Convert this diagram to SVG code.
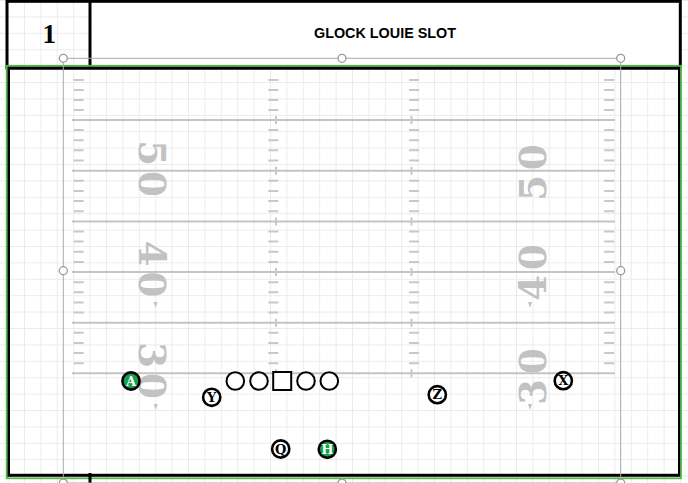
<svg xmlns="http://www.w3.org/2000/svg" width="688" height="483" viewBox="0 0 688 483">
<defs>
<pattern id="grid" patternUnits="userSpaceOnUse" x="7.6" y="0" width="16.4" height="16.4">
<path d="M0.5 0V16.4M0 0.5H16.4" fill="none" stroke="#ebebeb" stroke-width="1"/>
</pattern>
<style>
.yl{stroke:#c4c4c4;stroke-width:2;fill:none}
.hs{stroke:#c8c8c8;stroke-width:2;fill:none}
.num{font-family:"DejaVu Serif","Liberation Serif",serif;font-weight:bold;font-size:37px;fill:#c2c2c2;letter-spacing:5px}
.arr{fill:#c2c2c2}
.hdl{stroke:#a8a8a8;stroke-width:1;fill:none}
.hc{stroke:#999;stroke-width:1.3;fill:#fff}
.ol{fill:#fff;stroke:#000;stroke-width:2}
.sk{fill:#fff;stroke:#000;stroke-width:2.6}
.gr{fill:#12a04c;stroke:#000;stroke-width:2.6}
.lt{font-family:"DejaVu Serif","Liberation Serif",serif;font-weight:bold;font-size:13px;text-anchor:middle;fill:#000}
.lw{fill:#fff}
</style>
</defs>
<rect width="688" height="483" fill="#fff"/>
<rect width="688" height="483" fill="url(#grid)"/>
<g id="header">
<rect x="90" y="1.3" width="590" height="66" fill="#fff"/>
<rect x="7" y="1.3" width="673.3" height="66.7" fill="none" stroke="#000" stroke-width="3"/>
<line x1="90" y1="0" x2="90" y2="67" stroke="#000" stroke-width="3"/>
<text x="49.3" y="42.7" font-family="Liberation Serif, serif" font-weight="bold" font-size="27" text-anchor="middle">1</text>
<text x="385" y="37.7" font-family="Liberation Sans, Arial, sans-serif" font-weight="bold" font-size="15.5" text-anchor="middle" textLength="142" lengthAdjust="spacingAndGlyphs">GLOCK LOUIE SLOT</text>
</g>
<g id="field">
<g class="yl">
<path d="M72 120H615M72 170.7H615M72 221.4H615M72 272H615M72 322.7H615M72 373.3H615"/>
</g>
<g class="hs">
<path id="hashcol" d="M0 80H10M0 90H10M0 100H10M0 110H10M0 130.1H10M0 140.2H10M0 150.3H10M0 160.4H10M0 180.8H10M0 190.9H10M0 201H10M0 211.2H10M0 231.5H10M0 241.6H10M0 251.8H10M0 261.9H10M0 282.2H10M0 292.3H10M0 302.4H10M0 312.6H10M0 332.8H10M0 343H10M0 353.1H10M0 363.2H10" transform="translate(73.7,0)"/>
<use href="#hashcol" transform="translate(194.6,0)"/>
<use href="#hashcol" transform="translate(335.4,0)"/>
<use href="#hashcol" transform="translate(530.5,0)"/>
<path d="M276 116V124M276 166.7V174.7M276 217.4V225.4M276 268V276M276 318.7V326.7M276 369.3V377.3M411.5 116V124M411.5 166.7V174.7M411.5 217.4V225.4M411.5 268V276M411.5 318.7V326.7M411.5 369.3V377.3"/>
</g>
<g class="num">
<text transform="translate(152,171) rotate(90)" y="13.5" text-anchor="middle">50</text>
<text transform="translate(152,271.5) rotate(90)" y="13.5" text-anchor="middle">40</text>
<text transform="translate(152,373) rotate(90)" y="13.5" text-anchor="middle">30</text>
<text transform="translate(532.5,170) rotate(-90)" y="13.5" text-anchor="middle">50</text>
<text transform="translate(532.5,270) rotate(-90)" y="13.5" text-anchor="middle">40</text>
<text transform="translate(532.5,374) rotate(-90)" y="13.5" text-anchor="middle">30</text>
</g>
<g class="arr">
<polygon points="153.5,302 157.5,302 155.5,308"/>
<polygon points="153.7,404 157.7,404 155.7,410"/>
<polygon points="528,302 532,302 530,308"/>
<polygon points="528,404 532,404 530,410"/>
</g>
</g>
<g id="frame">
<rect x="8.5" y="68" width="671" height="407.3" fill="none" stroke="#000" stroke-width="3"/>
<rect x="6.7" y="65.8" width="674.3" height="412.5" fill="none" stroke="#55b84f" stroke-width="1.8"/>
<rect x="88.5" y="473" width="3" height="10" fill="#000"/>
</g>
<g id="handles">
<path class="hdl" d="M63.3 58.3H620.7M63.3 58.3V483M620.7 58.3V483M63.3 483H620.7"/>
<circle class="hc" cx="63.3" cy="58.3" r="4"/>
<circle class="hc" cx="342" cy="58.3" r="4"/>
<circle class="hc" cx="620.7" cy="58.3" r="4"/>
<circle class="hc" cx="63.3" cy="270.7" r="4"/>
<circle class="hc" cx="620.7" cy="270.7" r="4"/>
<circle class="hc" cx="63.3" cy="483" r="4"/>
<circle class="hc" cx="342" cy="483" r="4"/>
<circle class="hc" cx="620.7" cy="483" r="4"/>
</g>
<g id="connectors"></g>
<g id="lt"><circle class="ol" cx="235.3" cy="381" r="8.8"/></g>
<g id="lg"><circle class="ol" cx="259" cy="381" r="8.8"/></g>
<g id="c"><rect class="ol" x="273.2" y="372" width="18" height="18"/></g>
<g id="rg"><circle class="ol" cx="306" cy="381" r="8.8"/></g>
<g id="rt"><circle class="ol" cx="329.3" cy="381" r="8.8"/></g>
<g id="pA"><circle class="gr" cx="131" cy="381" r="8.6"/><text class="lt lw" x="131" y="385.7">A</text></g>
<g id="pY"><circle class="sk" cx="211.7" cy="397.3" r="8.6"/><text class="lt" x="211.7" y="402">Y</text></g>
<g id="pQ"><circle class="sk" cx="280.7" cy="449" r="8.6"/><text class="lt" x="280.7" y="453.7">Q</text></g>
<g id="pH"><circle class="gr" cx="327.3" cy="449.3" r="8.6"/><text class="lt lw" x="327.3" y="454">H</text></g>
<g id="pZ"><circle class="sk" cx="437.3" cy="394.7" r="8.6"/><text class="lt" x="437.3" y="399.4">Z</text></g>
<g id="pX"><circle class="sk" cx="563.3" cy="380.7" r="8.6"/><text class="lt" x="563.3" y="385.4">X</text></g>
</svg>
